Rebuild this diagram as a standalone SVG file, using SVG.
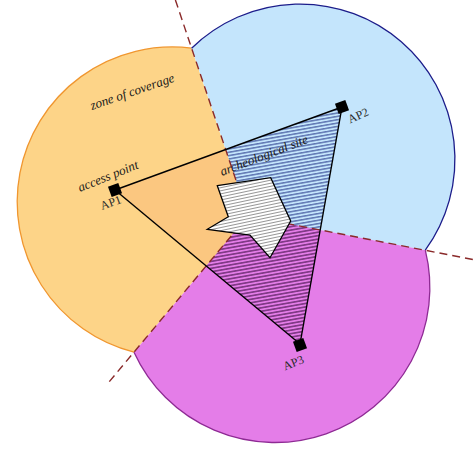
<svg xmlns="http://www.w3.org/2000/svg" width="474" height="460" viewBox="0 0 474 460">
<style>
.lbl{font-family:"Liberation Serif","DejaVu Serif",serif;font-style:italic;font-size:13px;fill:#1a1a1a}
.ap{font-family:"Liberation Serif","DejaVu Serif",serif;font-size:12px;fill:#2a2a2a}
.div{fill:none;stroke:#8a2a2a;stroke-width:1.4;stroke-dasharray:8,5}
.edge{fill:none;stroke:#000;stroke-width:1.4}
.sq{fill:#000}
</style>
<defs>
<pattern id="hBlue" patternUnits="userSpaceOnUse" width="20" height="3.3" patternTransform="rotate(-10)">
<rect width="20" height="3.3" fill="#c4e5fc"/>
<line x1="0" y1="1.6" x2="20" y2="1.6" stroke="#2c3e8c" stroke-width="1"/>
</pattern>
<pattern id="hPink" patternUnits="userSpaceOnUse" width="20" height="3.4" patternTransform="rotate(-10)">
<rect width="20" height="3.4" fill="#e47de8"/>
<line x1="0" y1="1.7" x2="20" y2="1.7" stroke="#4a1550" stroke-width="1.1"/>
</pattern>
<pattern id="hStar" patternUnits="userSpaceOnUse" width="20" height="3" patternTransform="rotate(-12)">
<rect width="20" height="3" fill="#ffffff"/>
<line x1="0" y1="1.5" x2="20" y2="1.5" stroke="#8a8a8a" stroke-width="0.9"/>
</pattern>
<clipPath id="cOr"><path d="M248,216 L191.6,48.2 A155,155 0 0 0 134,352.2 Z"/></clipPath>
<clipPath id="cBl"><path d="M248,216 L191.6,48.2 A155,155 0 0 1 425.3,250.2 Z"/></clipPath>
<clipPath id="cPk"><path d="M248,216 L425.3,250.2 A155,155 0 0 1 134,352.2 Z"/></clipPath>
</defs>
<rect width="474" height="460" fill="#ffffff"/>
<g id="zones">
<g id="zone-orange">
<path d="M248,216 L191.6,48.2 A155,155 0 0 0 134,352.2 Z" fill="#fdd488"/>
<path d="M191.6,48.2 A155,155 0 0 0 134,352.2" fill="none" stroke="#f0962f" stroke-width="1.3"/>
</g>
<g id="zone-blue">
<path d="M248,216 L191.6,48.2 A155,155 0 0 1 425.3,250.2 Z" fill="#c4e5fc"/>
<path d="M191.6,48.2 A155,155 0 0 1 425.3,250.2" fill="none" stroke="#1c1c8a" stroke-width="1.3"/>
</g>
<g id="zone-pink">
<path d="M248,216 L425.3,250.2 A155,155 0 0 1 134,352.2 Z" fill="#e47de8"/>
<path d="M425.3,250.2 A155,155 0 0 1 134,352.2" fill="none" stroke="#8e2a94" stroke-width="1.3"/>
</g>
</g>
<g id="triangle-fill">
<g clip-path="url(#cOr)"><polygon points="115,190 342,107 300,344" fill="#fbc780"/></g>
<g clip-path="url(#cBl)"><polygon points="115,190 342,107 300,344" fill="url(#hBlue)"/></g>
<g clip-path="url(#cPk)"><polygon points="115,190 342,107 300,344" fill="url(#hPink)"/></g>
</g>
<g id="dividers">
<line class="div" x1="175.4" y1="0" x2="248" y2="216"/>
<line class="div" x1="248" y1="216" x2="474" y2="259.7"/>
<line class="div" x1="248" y1="216" x2="109" y2="382"/>
</g>
<g id="site">
<polygon points="217.3,185.7 270.7,177.7 290.7,221 270,257.7 250,235 207.3,229.3 228.3,216.7" fill="url(#hStar)" stroke="#000" stroke-width="1.3" stroke-linejoin="miter"/>
<text class="lbl" transform="translate(222,176) rotate(-21)">archeological site</text>
</g>
<g id="connectors">
<line class="edge" x1="115" y1="190" x2="342" y2="107"/>
<line class="edge" x1="342" y1="107" x2="300" y2="344"/>
<line class="edge" x1="300" y1="344" x2="115" y2="190"/>
</g>
<g id="AP1">
<rect class="sq" x="-5.5" y="-5.5" width="11" height="11" transform="translate(115,190) rotate(-20)"/>
<text class="ap" transform="translate(102,210) rotate(-20)">AP1</text>
<text class="lbl" transform="translate(80,192) rotate(-22)">access point</text>
</g>
<g id="AP2">
<rect class="sq" x="-5.5" y="-5.5" width="11" height="11" transform="translate(342,107) rotate(-20)"/>
<text class="ap" transform="translate(350,123.5) rotate(-24)">AP2</text>
</g>
<g id="AP3">
<rect class="sq" x="-5.5" y="-5.5" width="11" height="11" transform="translate(300,345) rotate(-20)"/>
<text class="ap" transform="translate(285,370.5) rotate(-22)">AP3</text>
</g>
<g id="coverage-label">
<text class="lbl" transform="translate(92,110) rotate(-19)">zone of coverage</text>
</g>
</svg>
